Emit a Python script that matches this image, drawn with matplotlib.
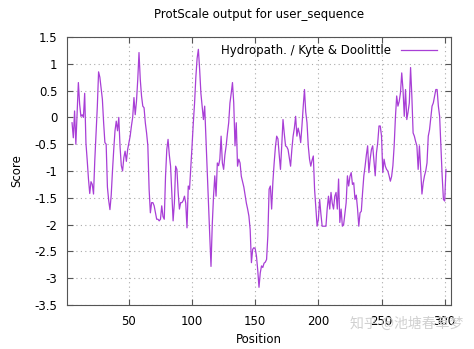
import matplotlib
matplotlib.use("Agg")
import matplotlib.pyplot as plt

# Kyte & Doolittle hydropathy profile (position, score)
positions = list(range(5, 302))
scores = [
    -0.10, -0.38, 0.12, -0.50, 0.10, 0.65, 0.25, 0.02, 0.05, 0.00,
    0.45, -0.48, -0.80, -1.15, -1.42, -1.20, -1.25, -1.43, -0.80, -0.30,
    0.20, 0.85, 0.75, 0.55, 0.34, -0.10, -0.47, -0.50, -1.30, -1.55,
    -1.72, -1.45, -1.00, -0.60, -0.25, -0.07, -0.25, 0.00, -0.55, -0.90,
    -1.00, -0.75, -0.63, -0.82, -0.60, -0.47, -0.35, -0.16, 0.00, 0.37,
    0.05, 0.30, 0.70, 1.21, 0.71, 0.40, 0.21, 0.18, -0.10, -0.29,
    -0.53, -1.34, -1.78, -1.59, -1.59, -1.65, -1.78, -1.90, -1.90, -1.93,
    -1.90, -1.65, -1.85, -1.90, -1.10, -0.60, -0.41, -0.70, -0.91, -1.40,
    -1.93, -1.60, -0.91, -0.97, -1.40, -1.71, -1.59, -1.59, -1.55, -1.47,
    -1.60, -2.06, -1.28, -1.34, -0.95, -0.53, -0.10, 0.27, 0.75, 1.10,
    1.27, 0.90, 0.45, 0.20, -0.04, 0.21, -0.40, -1.00, -1.59, -2.20,
    -2.78, -2.00, -1.47, -1.09, -1.47, -0.85, -0.90, -0.78, -0.35, -0.85,
    -0.97, -0.70, -0.53, -0.30, -0.10, 0.27, 0.45, 0.65, 0.27, -0.53,
    -0.10, -0.91, -0.78, -0.85, -1.10, -1.20, -1.30, -1.45, -1.60, -1.71,
    -1.84, -2.09, -2.71, -2.46, -2.43, -2.45, -2.59, -2.85, -3.17, -2.90,
    -2.77, -2.80, -2.72, -2.70, -2.65, -2.21, -1.34, -1.28, -1.71, -1.20,
    -0.85, -0.55, -0.35, -0.40, -0.70, -0.97, -0.53, -0.04, -0.30, -0.53,
    -0.55, -0.60, -0.75, -0.91, -0.60, -0.35, -0.20, 0.02, -0.35, -0.20,
    -0.30, -0.47, -0.16, 0.20, 0.52, 0.10, -0.10, -0.53, -0.78, -0.91,
    -0.80, -0.72, -1.34, -1.70, -2.03, -1.90, -1.53, -1.80, -2.03, -2.03,
    -2.03, -2.03, -1.70, -1.47, -1.71, -1.40, -1.60, -1.71, -1.47, -1.40,
    -1.71, -1.15, -1.96, -1.71, -2.03, -2.00, -1.80, -1.59, -1.09, -1.28,
    -1.10, -1.03, -1.25, -1.22, -1.53, -1.45, -1.70, -2.03, -1.78, -1.75,
    -1.40, -1.09, -0.91, -0.70, -0.53, -1.03, -0.78, -0.60, -0.53, -0.80,
    -1.09, -0.66, -0.47, -0.16, -0.16, -0.35, -1.03, -0.78, -0.91, -0.97,
    -1.00, -1.09, -1.19, -1.10, -0.90, -0.53, 0.00, 0.40, 0.21, 0.30,
    0.46, 0.83, 0.52, 0.02, 0.52, -0.04, 0.10, 0.27, 0.93, 0.40,
    -0.29, -0.35, -0.45, -0.53, -0.97, -0.53, -0.97, -1.43, -1.22, -1.09,
    -1.00, -0.85, -0.35, -0.23, 0.00, 0.21, 0.27, 0.40, 0.52, 0.52,
    0.21, 0.02, -0.53, -1.09, -1.53, -1.56, -0.97,
]
x_ticks = [50, 100, 150, 200, 250, 300]
y_ticks = [1.5, 1, 0.5, 0, -0.5, -1, -1.5, -2, -2.5, -3, -3.5]
y_labels = ["1.5", "1", "0.5", "0", "-0.5", "-1", "-1.5", "-2", "-2.5", "-3", "-3.5"]

plt.rcParams["font.family"] = ["DejaVu Sans", "Noto Sans CJK SC"]

fig = plt.figure(figsize=(4.74, 3.49), dpi=100)
ax = fig.add_axes([67 / 474, 44 / 349, 384 / 474, 268 / 349])

ax.plot(positions, scores, color="#a83fd6", linewidth=0.9,
        label="Hydropath. / Kyte & Doolittle")

ax.set_xlim(1, 305)
ax.set_ylim(-3.5, 1.5)
ax.set_xticks(x_ticks)
ax.set_yticks(y_ticks)
ax.set_yticklabels(y_labels)
ax.tick_params(direction="in", top=True, right=True, length=4,
               labelsize=8.5, color="#555555", pad=7)
ax.grid(True, linestyle=(0, (1, 3)), color="#aaaaaa", linewidth=0.8)
for s in ax.spines.values():
    s.set_color("#555555")

ax.set_title("ProtScale output for user_sequence", fontsize=8.5, pad=14)
ax.set_xlabel("Position", fontsize=8.5, labelpad=4)
ax.set_ylabel("Score", fontsize=8.5, labelpad=8)

leg = ax.legend(loc="upper right", frameon=False, fontsize=8.5,
                markerfirst=False, handlelength=3.0, handletextpad=0.9,
                borderaxespad=1.2, borderpad=0.0,
                bbox_to_anchor=(1.0, 1.028))

fig.text(0.977, 0.072, "知乎 @池塘春草梦", ha="right", va="center",
         fontsize=10, color="#d0d0d0", family=["Noto Sans CJK SC", "DejaVu Sans"])

fig.savefig("out.png", dpi=100)
plt.close(fig)
